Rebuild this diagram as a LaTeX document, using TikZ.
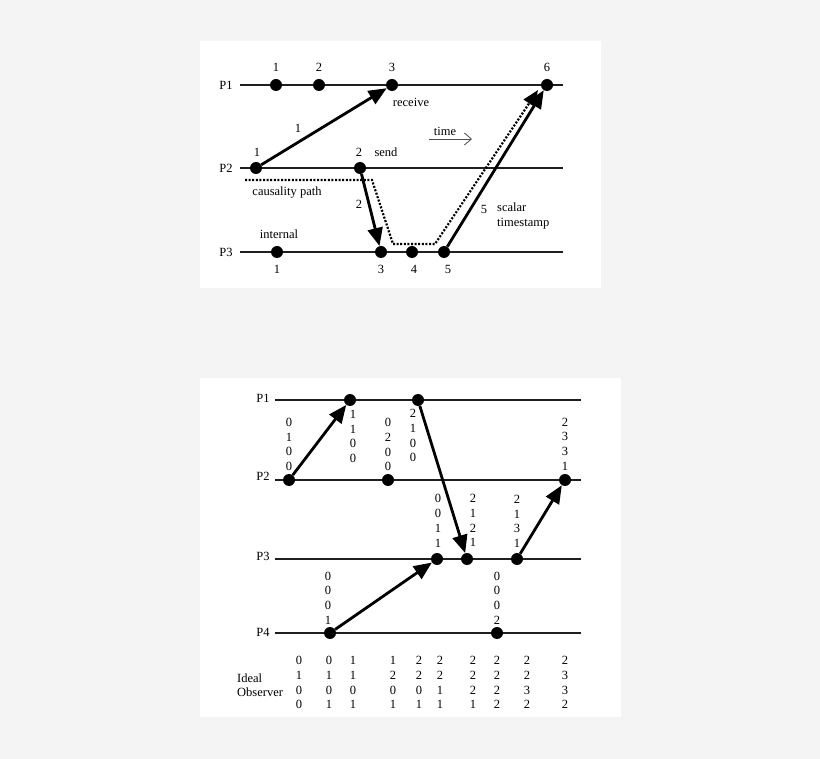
\documentclass[tikz,border=0pt]{standalone}
\usepackage{fontspec}
\setmainfont{Liberation Serif}
\usetikzlibrary{arrows.meta}
\definecolor{bgc}{HTML}{F4F4F4}
\begin{document}
\begin{tikzpicture}[x=1pt,y=-1pt,
  every node/.style={font=\fontsize{12.5}{14.7}\selectfont, inner sep=0pt},
  proc/.style={line width=2pt, draw=black!88},
  dot/.style={circle, fill=black, minimum size=12pt, inner sep=0pt},
  msg/.style={line width=2.8pt, -{Triangle[length=18pt,width=15pt]}},
  vec/.style={align=center},
  causal/.style={line width=2.2pt, dash pattern=on 2pt off 1.6pt, -{Triangle[length=16pt,width=13pt]}},
  timearrow/.style={line width=0.8pt, draw=black!70, -{Straight Barb[length=7pt,width=12pt]}}
]
\fill[bgc] (0,0) rectangle (820,759);
\useasboundingbox (0,0) rectangle (820,759);
\fill[white] (200,41) rectangle (601,288);
\fill[white] (200,378) rectangle (621,717);

% ---------------- top panel ----------------
\node (tP1) at (226,85) {P1};
\node (tP2) at (226,168) {P2};
\node (tP3) at (226,252) {P3};
\draw[proc] (240,85) coordinate (l1s) -- (563,85) coordinate (l1e);
\draw[proc] (240,168) coordinate (l2s) -- (563,168) coordinate (l2e);
\draw[proc] (240,252) coordinate (l3s) -- (563,252) coordinate (l3e);

\node[dot] (a1) at (276,85) {};
\node[dot] (a2) at (319,85) {};
\node[dot] (a3) at (392,85) {};
\node[dot] (a6) at (547,85) {};
\node[dot] (b1) at (256,168) {};
\node[dot] (b2) at (360,168) {};
\node[dot] (c1) at (277,252) {};
\node[dot] (c3) at (381,252) {};
\node[dot] (c4) at (412,252) {};
\node[dot] (c5) at (444,252) {};

% causality path
\coordinate (d0) at (245,180);
\coordinate (d1) at (372,180);
\coordinate (d2) at (393,244);
\coordinate (d3) at (435,244);
\coordinate (d4) at (538,90);
\draw[causal] (d0) -- (d1) -- (d2) -- (d3) -- (d4);

\draw[msg] (b1) -- (a3);
\draw[msg] (b2) -- (c3);
\draw[msg] (c5) -- (a6);

\node (na1) at (276,67) {1};
\node (na2) at (319,67) {2};
\node (na3) at (392,67) {3};
\node (na6) at (547,67) {6};
\node (nrecv) at (411,102) {receive};
\node (nm1) at (298,128) {1};
\node (nb1) at (257,152) {1};
\node (nb2) at (359,152) {2};
\node (nsend) at (386,152) {send};
\node (ncaus) at (287,193) {causality path};
\node (nm2) at (359,204) {2};
\node (nint) at (279,234) {internal};
\node (nc1) at (277,269) {1};
\node (nc3) at (381,269) {3};
\node (nc4) at (414,269) {4};
\node (nc5) at (448,269) {5};
\node (nm5) at (484,209) {5};
\node[anchor=west, align=left] (nscal) at (497,216) {scalar\\timestamp};
\node (ntime) at (445,131) {time};
\coordinate (ts) at (429,139);
\coordinate (te) at (472,139);
\draw[timearrow] (ts) -- (te);

% ---------------- bottom panel ----------------
\node (bP1) at (263,398) {P1};
\node (bP2) at (263,476) {P2};
\node (bP3) at (263,556) {P3};
\node (bP4) at (263,632) {P4};
\draw[proc, line width=2.3pt] (275,400) coordinate (m1s) -- (581,400) coordinate (m1e);
\draw[proc, line width=2.3pt] (275,480) coordinate (m2s) -- (581,480) coordinate (m2e);
\draw[proc, line width=2.3pt] (275,559) coordinate (m3s) -- (581,559) coordinate (m3e);
\draw[proc, line width=2.3pt] (275,633) coordinate (m4s) -- (581,633) coordinate (m4e);

\node[dot] (e1) at (350,400) {};
\node[dot] (e2) at (418,400) {};
\node[dot] (f1) at (289,480) {};
\node[dot] (f2) at (388,480) {};
\node[dot] (f3) at (565,480) {};
\node[dot] (g1) at (437,559) {};
\node[dot] (g2) at (467,559) {};
\node[dot] (g3) at (517,559) {};
\node[dot] (h1) at (330,633) {};
\node[dot] (h2) at (497,633) {};

\draw[msg] (f1) -- (e1);
\draw[msg] (e2) -- (g2);
\draw[msg] (h1) -- (g1);
\draw[msg] (g3) -- (f3);

\node[vec] (v1) at (289,444.5) {0\\1\\0\\0};
\node[vec] (v2) at (353,436.5) {1\\1\\0\\0};
\node[vec] (v3) at (388,444.7) {0\\2\\0\\0};
\node[vec] (v4) at (413,435.8) {2\\1\\0\\0};
\node[vec] (v5) at (565,444.2) {2\\3\\3\\1};
\node[vec] (v6) at (438,520.8) {0\\0\\1\\1};
\node[vec] (v7) at (473,520.8) {2\\1\\2\\1};
\node[vec] (v8) at (517,521.5) {2\\1\\3\\1};
\node[vec] (v9) at (328,598) {0\\0\\0\\1};
\node[vec] (v10) at (497,598) {0\\0\\0\\2};

\node[anchor=west] (nideal) at (237,678) {Ideal};
\node[anchor=west] (nobs) at (237,692) {Observer};
\node[vec] (o1) at (299,682.7) {0\\1\\0\\0};
\node[vec] (o2) at (329,682.7) {0\\1\\0\\1};
\node[vec] (o3) at (353,682.7) {1\\1\\0\\1};
\node[vec] (o4) at (393,682.7) {1\\2\\0\\1};
\node[vec] (o5) at (419,682.7) {2\\2\\0\\1};
\node[vec] (o6) at (440,682.7) {2\\2\\1\\1};
\node[vec] (o7) at (473,682.7) {2\\2\\2\\1};
\node[vec] (o8) at (497,682.7) {2\\2\\2\\2};
\node[vec] (o9) at (527,682.7) {2\\2\\3\\2};
\node[vec] (o10) at (565,682.7) {2\\3\\3\\2};
\end{tikzpicture}
\end{document}
